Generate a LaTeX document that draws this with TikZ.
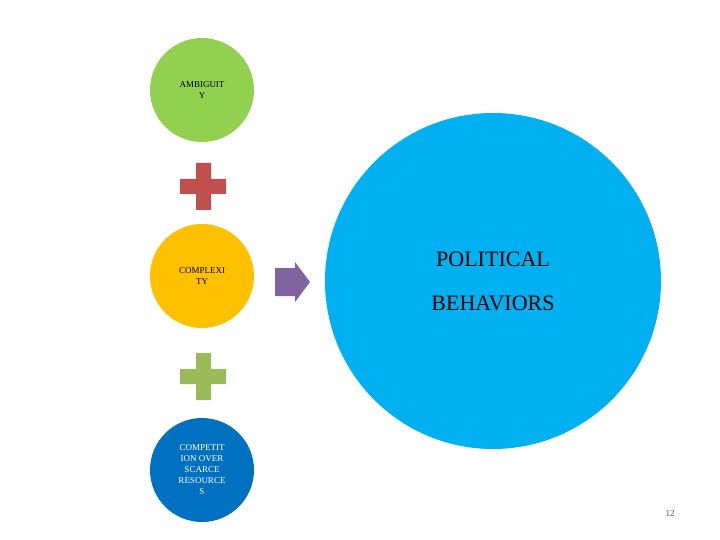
\documentclass[tikz,border=0pt]{standalone}
\usepackage{fontspec}
\setmainfont{Liberation Serif}
\begin{document}
\begin{tikzpicture}[x=1pt,y=-1pt]
\definecolor{cgreen}{HTML}{92D050}
\definecolor{cred}{HTML}{C0504D}
\definecolor{cyel}{HTML}{FFC000}
\definecolor{cpur}{HTML}{8064A2}
\definecolor{cgr2}{HTML}{9BBB59}
\definecolor{cblue}{HTML}{0070C0}
\definecolor{cbig}{HTML}{00B0F0}
\tikzset{small/.style={circle,minimum size=104pt,inner sep=0pt,align=center,font=\fontsize{9}{11}\selectfont},
plusshape/.style={fill=#1}}
\useasboundingbox (0,0) rectangle (720,540);
\node[small,fill=cgreen] (a) at (202,90) {AMBIGUIT\\Y};
\node[small,fill=cyel] (b) at (202,276) {COMPLEXI\\TY};
\node[small,fill=cblue,text=white] (c) at (202,470) {COMPETIT\\ION OVER\\SCARCE\\RESOURCE\\S};
\node[circle,fill=cbig,minimum size=336pt,inner sep=0pt,align=center,font=\fontsize{22}{44}\selectfont] (d) at (493,281) {POLITICAL\\BEHAVIORS};
\fill[cred] (180,179) rectangle (226,194) (196,163) rectangle (211,210);
\fill[cgr2] (180,369) rectangle (226,384) (196,353) rectangle (211,400);
\fill[cpur] (275,268) -- (295,268) -- (295,262) -- (310,282) -- (295,302) -- (295,296) -- (275,296) -- cycle;
\node[font=\fontsize{9}{11}\selectfont,text=black!70] (p) at (670,514) {12};
\end{tikzpicture}
\end{document}
